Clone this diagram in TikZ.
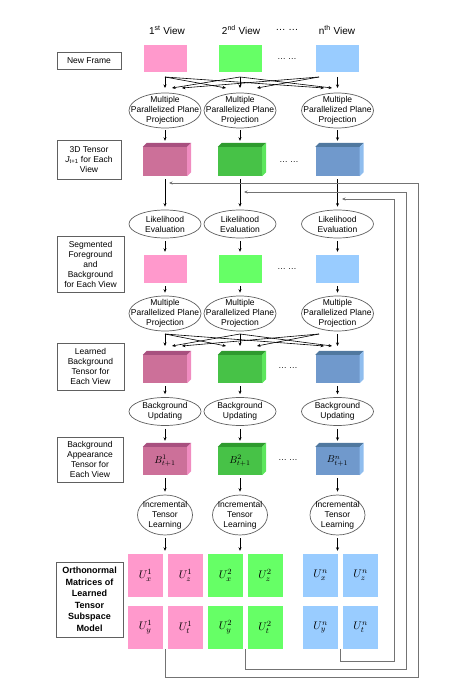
\documentclass[tikz,border=0pt]{standalone}
\usepackage{fontspec}
\setmainfont{Liberation Sans}
\usetikzlibrary{shapes.geometric,arrows.meta,calc}

\definecolor{pinkA}{HTML}{FF99CC}
\definecolor{greenA}{HTML}{66FF66}
\definecolor{blueA}{HTML}{99CCFF}
\definecolor{pinkF}{HTML}{CC7099}
\definecolor{pinkT}{HTML}{A8507F}
\definecolor{pinkS}{HTML}{F08CC0}
\definecolor{greenF}{HTML}{47C247}
\definecolor{greenT}{HTML}{2E9A2E}
\definecolor{greenS}{HTML}{5CE65C}
\definecolor{blueF}{HTML}{7099CC}
\definecolor{blueT}{HTML}{50789F}
\definecolor{blueS}{HTML}{8FBDEE}
\definecolor{edge}{HTML}{606060}

% top and side faces of a tensor block
\newcommand{\tensfaces}[2]{%
  \fill[#2T] (#1.north west) -- ++(4,-4) -- ($(#1.north east)+(4,-4)$) -- (#1.north east) -- cycle;
  \fill[#2S] (#1.north east) -- ++(4,-4) -- ($(#1.south east)+(4,-4)$) -- (#1.south east) -- cycle;
}

\tikzset{
  txt/.style={font=\fontsize{8.5}{10}\selectfont, align=center, inner sep=0pt},
  hdr/.style={font=\fontsize{10}{12}\selectfont, inner sep=0pt},
  lbox/.style={txt, draw=edge, line width=0.8pt},
  ell/.style={ellipse, draw=edge, line width=0.7pt, inner sep=0pt},
  pp/.style={ell, minimum width=72pt, minimum height=35pt,
    label={[txt]center:Multiple\\Parallelized Plane\\Projection}},
  lk/.style={ell, minimum width=72pt, minimum height=28pt,
    label={[txt]center:Likelihood\\Evaluation}},
  bu/.style={ell, minimum width=72pt, minimum height=28pt,
    label={[txt]center:Background\\Updating}},
  itl/.style={ell, minimum width=55pt, minimum height=40pt,
    label={[txt]center:Incremental\\Tensor\\Learning}},
  frm/.style={fill=#1, minimum width=43pt, minimum height=27pt, inner sep=0pt},
  tens/.style={fill=#1, minimum width=44pt, minimum height=29pt, inner sep=0pt,
    font=\fontsize{11}{11}\selectfont},
  um/.style={fill=#1, minimum width=35pt, minimum height=43pt, inner sep=0pt,
    font=\fontsize{11}{11}\selectfont},
  arr/.style={-{Stealth[length=3.5pt,width=3pt]}, line width=0.6pt},
  varr/.style={arr, shorten <=3pt, shorten >=3pt},
  fb/.style={arr, draw=gray!90!black, line width=0.8pt}
}

\begin{document}
\begin{tikzpicture}[x=1pt,y=-1pt]
\useasboundingbox (0,0) rectangle (474,695);

% column headers
\node[hdr] (h1) at (167,30) {1\textsuperscript{st} View};
\node[hdr] (h2) at (241,30) {2\textsuperscript{nd} View};
\node[hdr] (h3) at (287,30) {\dots\ \dots};
\node[hdr] (h4) at (337,30) {n\textsuperscript{th} View};

% row labels
\node[lbox, minimum width=64pt, minimum height=17pt] (lnew) at (89,60.5) {New Frame};
\node[lbox, minimum width=64pt, minimum height=39pt] (ltens) at (89,159.5)
  {3D Tensor\\\textit{J}\textsubscript{t+1} for Each\\View};
\node[lbox, minimum width=67pt, minimum height=56pt] (lseg) at (90.5,264)
  {Segmented\\Foreground\\and\\Background\\for Each View};
\node[lbox, minimum width=67pt, minimum height=47pt] (llearn) at (90.5,366.5)
  {Learned\\Background\\Tensor for\\Each View};
\node[lbox, minimum width=66pt, minimum height=45pt] (lapp) at (90,459.5)
  {Background\\Appearance\\Tensor for\\Each View};
\node[lbox, minimum width=67pt, minimum height=75pt, font=\fontsize{9}{11.5}\selectfont\bfseries]
  (lortho) at (89.5,599.5) {Orthonormal\\Matrices of\\Learned\\Tensor\\Subspace\\Model};

% new frames
\node[frm=pinkA] (f1) at (165,58.5) {};
\node[frm=greenA] (f2) at (240,58.5) {};
\node[frm=blueA] (f3) at (337.5,58.5) {};
\node[txt] (d1) at (287,59) {\dots\ \dots};

% projections of the new frame
\node[pp] (pa1) at (165,110.5) {};
\node[pp] (pa2) at (240,110.5) {};
\node[pp] (pa3) at (337.5,110.5) {};

% 3D tensors
\node[tens=pinkF] (ta1) at (165,161.5) {};
\node[tens=greenF] (ta2) at (240,161.5) {};
\node[tens=blueF] (ta3) at (337.5,161.5) {};
\tensfaces{ta1}{pink}
\tensfaces{ta2}{green}
\tensfaces{ta3}{blue}
\node[txt] (d2) at (289,162) {\dots\ \dots};

% likelihood
\node[lk] (lk1) at (165,224) {};
\node[lk] (lk2) at (240,224) {};
\node[lk] (lk3) at (337.5,224) {};

% segmented frames
\node[frm=pinkA, minimum height=28pt] (g1) at (165,269) {};
\node[frm=greenA, minimum height=28pt] (g2) at (240,269) {};
\node[frm=blueA, minimum height=28pt] (g3) at (337.5,269) {};
\node[txt] (d3) at (287,269) {\dots\ \dots};

% projections of the segmentation
\node[pp] (pb1) at (165,313.5) {};
\node[pp] (pb2) at (240,313.5) {};
\node[pp] (pb3) at (337.5,313.5) {};

% learned background tensors
\node[tens=pinkF, minimum height=28pt] (tb1) at (165,369) {};
\node[tens=greenF, minimum height=28pt] (tb2) at (240,369) {};
\node[tens=blueF, minimum height=28pt] (tb3) at (337.5,369) {};
\tensfaces{tb1}{pink}
\tensfaces{tb2}{green}
\tensfaces{tb3}{blue}
\node[txt] (d4) at (288,368) {\dots\ \dots};

% background updating
\node[bu] (bu1) at (165,411.5) {};
\node[bu] (bu2) at (240,411.5) {};
\node[bu] (bu3) at (337.5,411.5) {};

% background appearance tensors
\node[tens=pinkF, minimum height=28pt] (tc1) at (165,461) {};
\node[tens=greenF, minimum height=28pt] (tc2) at (240,461) {};
\node[tens=blueF, minimum height=28pt] (tc3) at (337.5,461) {};
\tensfaces{tc1}{pink}
\tensfaces{tc2}{green}
\tensfaces{tc3}{blue}
\node at (tc1) {$B_{t+1}^{1}$};
\node at (tc2) {$B_{t+1}^{2}$};
\node at (tc3) {$B_{t+1}^{n}$};
\node[txt] (d5) at (288,460) {\dots\ \dots};

% incremental learning
\node[itl] (il1) at (165,515) {};
\node[itl] (il2) at (240,515) {};
\node[itl] (il3) at (337.5,515) {};

% subspace matrices
\node[um=pinkA] (ux1) at (145.5,575.5) {$U_x^1$};
\node[um=pinkA] (uz1) at (185.5,575.5) {$U_z^1$};
\node[um=pinkA] (uy1) at (145.5,627.5) {$U_y^1$};
\node[um=pinkA] (ut1) at (185.5,627.5) {$U_t^1$};
\node[um=greenA] (ux2) at (225.5,575.5) {$U_x^2$};
\node[um=greenA] (uz2) at (265,575.5) {$U_z^2$};
\node[um=greenA] (uy2) at (225.5,627.5) {$U_y^2$};
\node[um=greenA] (ut2) at (265,627.5) {$U_t^2$};
\node[um=blueA] (ux3) at (320.5,575.5) {$U_x^n$};
\node[um=blueA] (uz3) at (360.5,575.5) {$U_z^n$};
\node[um=blueA] (uy3) at (320.5,627.5) {$U_y^n$};
\node[um=blueA] (ut3) at (360.5,627.5) {$U_t^n$};

% crossing arrows into all projections
\foreach \r/\ys/\ye in {a/77/88, b/334/346} {
  \coordinate (s1\r) at (165,\ys);
  \coordinate (s2\r) at (240,\ys);
  \coordinate (s3\r) at (319,\ys);
  \coordinate (s4\r) at (337.5,\ys);
  \foreach \k/\x in {k1/165, k2/172, k3/182, k4/226, k5/240, k6/257, k7/324, k8/332, k9/337.5}
    \coordinate (\k\r) at (\x,\ye);
  \draw[arr] (s1\r) -- (k1\r);
  \draw[arr] (s1\r) -- (k4\r);
  \draw[arr] (s1\r) -- (k7\r);
  \draw[arr] (s2\r) -- (k2\r);
  \draw[arr] (s2\r) -- (k5\r);
  \draw[arr] (s2\r) -- (k8\r);
  \draw[arr] (s3\r) -- (k3\r);
  \draw[arr] (s3\r) -- (k6\r);
  \draw[arr] (s4\r) -- (k9\r);
}

% arrows down each column
\foreach \i in {1,2,3} {
  \draw[varr, shorten <=2pt, shorten >=6pt] (pa\i) -- (ta\i);
  \draw[varr] (ta\i) -- (lk\i);
  \draw[varr] (lk\i) -- (g\i);
  \draw[varr] (g\i) -- (pb\i);
  \draw[varr] (tb\i) -- (bu\i);
  \draw[varr, shorten >=6pt] (bu\i) -- (tc\i);
  \draw[varr] (tc\i) -- (il\i);
  \draw[varr] (il\i.south) -- (il\i.south |- ux\i.north);
}

% feedback of the learned model
\coordinate (fs1) at ($(uy1.south east)!.5!(ut1.south west)$);
\coordinate (fs2) at ($(uy2.south east)!.5!(ut2.south west)$);
\coordinate (fs3) at ($(uy3.south east)!.5!(ut3.south west)$);
\coordinate (fc1) at (418,677);
\coordinate (fc2) at (406,669);
\coordinate (fc3) at (394,661);
\coordinate (fe1) at (169,183);
\coordinate (fe2) at (244,192);
\coordinate (fe3) at (342,199);
\draw[fb] (fs1) |- (fc1) |- (fe1);
\draw[fb] (fs2) |- (fc2) |- (fe2);
\draw[fb] (fs3) |- (fc3) |- (fe3);
\end{tikzpicture}
\end{document}
